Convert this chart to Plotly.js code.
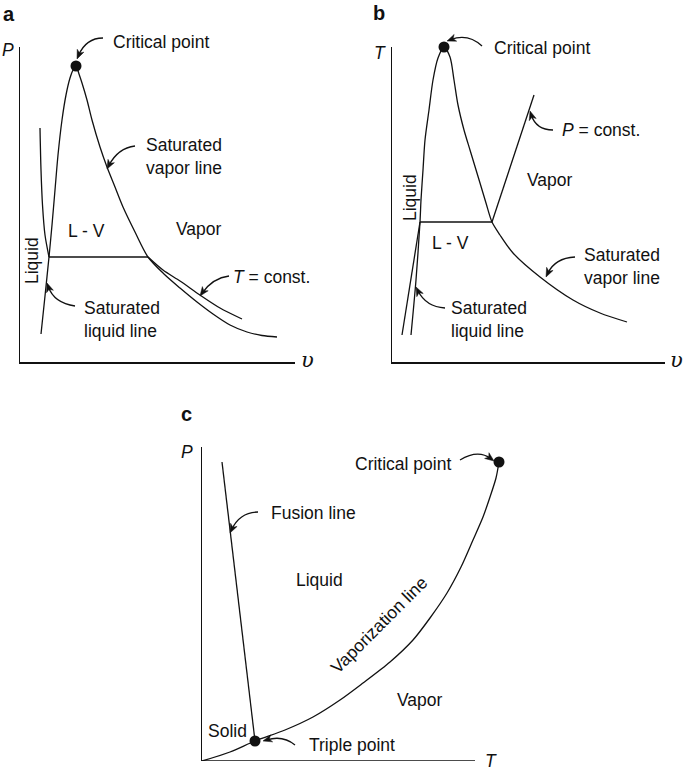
<!DOCTYPE html>
<html>
<head>
<meta charset="utf-8">
<script src="https://cdn.plot.ly/plotly-3.0.1.min.js"></script>
<style>html,body{margin:0;padding:0;background:#fff;}#chart{width:685px;height:771px;}</style>
</head>
<body>
<div id="chart"></div>
<script>
// ---------- Panel a : P–v diagram (arbitrary units) ----------
const aDomeV = [21, 25, 29, 32, 35, 38, 42, 46, 50, 53, 56, 59, 62, 67, 72, 80, 87, 95, 103, 115, 128, 144, 160, 177, 193, 210, 227, 242, 257];
const aDomeP = [28, 66, 105, 137, 172, 207, 242, 267, 284, 292, 296, 288, 279, 262, 242, 215, 195, 175, 155, 130, 105, 88, 74, 60, 48, 37, 30, 26.5, 25];
const aIsoLiqV = [20, 21, 22.5, 25, 29];
const aIsoLiqP = [234, 192, 157, 127, 105];
const aIsoTieV = [29, 128];
const aIsoTieP = [105, 105];
const aIsoVapV = [128, 143, 160, 180, 200, 222];
const aIsoVapP = [105, 92, 81, 67, 54, 43];
const aCritV = [56];
const aCritP = [296];

// ---------- Panel b : T–v diagram ----------
const bDomeV = [19, 24, 28, 29, 31, 33, 37, 41, 46, 52, 58, 62, 66, 72, 78, 88, 94, 100, 108, 121, 148, 181, 208, 235];
const bDomeT = [27, 82, 140, 162, 192, 222, 252, 282, 304, 315, 305, 282, 257, 232, 212, 179, 159, 140, 127, 109, 85, 62, 49, 40];
const bIsoLiqV = [10, 28];
const bIsoLiqT = [27, 140];
const bIsoTieV = [28, 100];
const bIsoTieT = [140, 140];
const bIsoVapV = [100, 142];
const bIsoVapT = [140, 267];
const bCritV = [52];
const bCritT = [315];

// ---------- Panel c : P–T diagram ----------
const cVapT = [0, 28, 53, 83, 111, 138, 161, 188, 211, 228, 245, 259, 271, 281, 288, 294, 297];
const cVapP = [0, 9, 20, 31, 44, 61, 78, 99, 121, 143, 168, 194, 221, 244, 264, 283, 299];
const cFusT = [20, 53];
const cFusP = [299, 20];
const cPointT = [297, 53];   // critical point, triple point
const cPointP = [299, 20];
const cAxisEndT = 273;        // length of the drawn T axis

// ---------- styling ----------
const W = 685, H = 771;
const FONT = 'Liberation Sans, Arial, Helvetica, sans-serif';
const FS = 17.5;
const INK = '#111';
const LW = 1.3;

function line(x, y, xa, ya, shape) {
  return {x: x, y: y, xaxis: xa, yaxis: ya, type: 'scatter', mode: 'lines',
          line: {color: INK, width: LW, shape: shape || 'linear', smoothing: 0.8},
          cliponaxis: false, hoverinfo: 'skip'};
}
function dots(x, y, xa, ya) {
  return {x: x, y: y, xaxis: xa, yaxis: ya, type: 'scatter', mode: 'markers',
          marker: {color: INK, size: 11}, cliponaxis: false, hoverinfo: 'skip'};
}

const data = [
  line(aDomeV, aDomeP, 'x', 'y', 'spline'),
  line(aIsoLiqV, aIsoLiqP, 'x', 'y', 'spline'),
  line(aIsoTieV, aIsoTieP, 'x', 'y'),
  line(aIsoVapV, aIsoVapP, 'x', 'y', 'spline'),
  dots(aCritV, aCritP, 'x', 'y'),
  line(bDomeV, bDomeT, 'x2', 'y2', 'spline'),
  line(bIsoLiqV, bIsoLiqT, 'x2', 'y2'),
  line(bIsoTieV, bIsoTieT, 'x2', 'y2'),
  line(bIsoVapV, bIsoVapT, 'x2', 'y2'),
  dots(bCritV, bCritT, 'x2', 'y2'),
  line(cVapT, cVapP, 'x3', 'y3', 'spline'),
  line(cFusT, cFusP, 'x3', 'y3'),
  dots(cPointT, cPointP, 'x3', 'y3')
];

// helpers in page pixels -> paper
const px = v => v / W;
const py = v => 1 - v / H;

function label(text, x, y, opts) {
  opts = opts || {};
  return Object.assign({
    text: text, x: px(x), y: py(y), xref: 'paper', yref: 'paper',
    showarrow: false, xanchor: 'center', yanchor: 'middle',
    font: {family: FONT, size: FS, color: INK}
  }, opts);
}
function leftLabel(text, x, y) {
  return label(text, x, y, {xanchor: 'left', align: 'left'});
}
const UPS_FONT = {family: 'DejaVu Serif, Liberation Serif, serif', size: 21, color: INK};

const annotations = [
  // panel letters
  label('<b>a</b>', 9, 14, {font: {family: FONT, size: 20, color: INK}}),
  label('<b>b</b>', 379, 13, {font: {family: FONT, size: 20, color: INK}}),
  label('<b>c</b>', 187, 414, {font: {family: FONT, size: 20, color: INK}}),
  // axis letters
  label('<i>P</i>', 8, 50),
  label('<i>υ</i>', 307, 360, {font: UPS_FONT}),
  label('<i>T</i>', 380, 53),
  label('<i>υ</i>', 676, 360, {font: UPS_FONT}),
  label('<i>P</i>', 187, 452),
  label('<i>T</i>', 491, 761),
  // panel a
  leftLabel('Critical point', 111, 42),
  leftLabel('Saturated<br>vapor line', 144, 157),
  label('Vapor', 199, 229),
  label('L - V', 87, 231),
  label('Liquid', 32, 260, {textangle: -90}),
  leftLabel('<i>T</i> = const.', 231, 277),
  leftLabel('Saturated<br>liquid line', 82, 319),
  // panel b
  leftLabel('Critical point', 492, 48),
  leftLabel('<i>P</i> = const.', 560, 130),
  label('Vapor', 550, 180),
  label('Liquid', 410, 198, {textangle: -90}),
  label('L - V', 450, 243),
  leftLabel('Saturated<br>vapor line', 582, 266),
  leftLabel('Saturated<br>liquid line', 449, 319),
  // panel c
  leftLabel('Critical point', 353, 464),
  leftLabel('Fusion line', 269, 513),
  label('Liquid', 319, 580),
  label('Vaporization line', 379, 625, {textangle: -45}),
  label('Vapor', 420, 700),
  label('Solid', 227, 731),
  leftLabel('Triple point', 307, 745)
];

// curved arrows: [tailX, tailY, ctrlX, ctrlY, headX, headY] in page pixels
const arrows = [
  [103, 38, 86, 38, 77, 59],      // a critical point
  [135, 146, 118, 148, 107, 169], // a saturated vapor line
  [229, 276, 213, 278, 200, 296], // a T = const
  [75, 306, 54, 303, 47, 283],    // a saturated liquid line
  [482, 46, 468, 33, 447, 41],    // b critical point
  [553, 130, 536, 130, 530, 111], // b P = const
  [575, 257, 555, 258, 546, 277], // b saturated vapor line
  [445, 308, 426, 307, 416, 287], // b saturated liquid line
  [460, 460, 478, 449, 494, 461], // c critical point
  [258, 512, 240, 512, 230, 533], // c fusion line
  [295, 745, 283, 735, 263, 741]  // c triple point
];
const shapes = [];
arrows.forEach(function (a) {
  const [tx, ty, cx, cy, hx, hy] = a;
  let dx = hx - cx, dy = hy - cy;
  const L = Math.hypot(dx, dy); dx /= L; dy /= L;
  const len = 9, half = 3.6;
  const bx = hx - dx * len, by = hy - dy * len;
  const nx = -dy, ny = dx;
  const sx = hx - dx * 4, sy = hy - dy * 4;
  shapes.push({type: 'path', xref: 'paper', yref: 'paper',
    path: 'M' + px(tx) + ',' + py(ty) + ' Q' + px(cx) + ',' + py(cy) + ' ' + px(sx) + ',' + py(sy),
    line: {color: INK, width: 1.3}});
  shapes.push({type: 'path', xref: 'paper', yref: 'paper',
    path: 'M' + px(hx) + ',' + py(hy) +
          ' L' + px(bx + nx * half) + ',' + py(by + ny * half) +
          ' L' + px(hx - dx * 6.5) + ',' + py(hy - dy * 6.5) +
          ' L' + px(bx - nx * half) + ',' + py(by - ny * half) + ' Z',
    fillcolor: INK, line: {color: INK, width: 0.5}});
});
// T axis of panel c (the plotting area extends past it so the critical point fits)
shapes.push({type: 'line', xref: 'x3', yref: 'y3', x0: 0, y0: 0, x1: cAxisEndT, y1: 0,
             line: {color: INK, width: 1.5}});

function ax(domain, range, anchor, showline) {
  return {domain: domain, range: range, anchor: anchor, showline: showline !== false, linecolor: INK, linewidth: 1.5,
          showgrid: false, zeroline: false, showticklabels: false, ticks: '', fixedrange: true};
}

const layout = {
  width: W, height: H, autosize: false,
  margin: {l: 0, r: 0, t: 0, b: 0, pad: 0},
  paper_bgcolor: '#fff', plot_bgcolor: 'rgba(0,0,0,0)',
  showlegend: false,
  font: {family: FONT, size: FS, color: INK},
  xaxis: ax([20 / W, 295 / W], [0, 275], 'y'),
  yaxis: ax([(H - 362) / H, (H - 47) / H], [0, 315], 'x'),
  xaxis2: ax([392 / W, 665 / W], [0, 273], 'y2'),
  yaxis2: ax([(H - 362) / H, (H - 47) / H], [0, 315], 'x2'),
  xaxis3: ax([202 / W, 512 / W], [0, 310], 'y3', false),
  yaxis3: ax([(H - 761) / H, (H - 447) / H], [0, 314], 'x3'),
  annotations: annotations,
  shapes: shapes
};

Plotly.newPlot('chart', data, layout, {displayModeBar: false, staticPlot: true});
</script>
</body>
</html>
